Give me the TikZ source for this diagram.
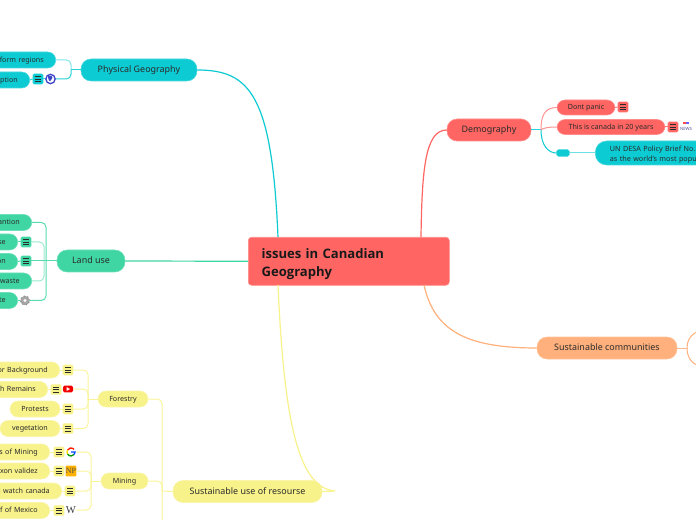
\documentclass[tikz,border=0pt]{standalone}
\usepackage{fontspec}
\setmainfont{Noto Sans}
\newfontfamily\serifw{Liberation Serif}
\newfontfamily\boldface{Open Sans}[UprightFont=* Bold]
\definecolor{coral}{HTML}{FF6663}
\definecolor{cyanb}{HTML}{0CCBD3}
\definecolor{greenb}{HTML}{3FD6A3}
\definecolor{yellowb}{HTML}{F8F28B}
\definecolor{orangeb}{HTML}{FFB07C}
\definecolor{inkc}{HTML}{2B2B2B}
\definecolor{globeb}{HTML}{3D45C8}
\tikzset{
  x=0.75pt,y=-0.75pt,
  sz/.style 2 args={minimum width=#1*0.75pt,minimum height=#2*0.75pt},
  base/.style={fill=#1,draw=#1!75!white,line width=.4pt,inner sep=0pt,text=inkc,rounded corners=6pt},
  main/.style={base=#1,font=\fontsize{6.7}{8}\selectfont,minimum height=16.5pt,rounded corners=7.5pt,text height=5.8pt,text depth=1.5pt},
  leaf/.style={base=#1,font=\fontsize{5.35}{7}\selectfont,minimum height=12pt,text height=4.6pt,text depth=1.2pt},
  cutleaf/.style={leaf=#1,anchor=east,text width=90pt,align=right,inner xsep=9pt},
  menu/.style={fill=#1,draw=#1!70!white,line width=.3pt,rounded corners=1pt,minimum size=7.8pt,inner sep=0pt,
    path picture={\foreach \d in {-1.8pt,0pt,1.8pt}{
      \draw[inkc,line width=.45pt] ([xshift=-2.4pt,yshift=\d]path picture bounding box.center) -- ([xshift=2.4pt,yshift=\d]path picture bounding box.center);}}},
  link/.style={draw=#1!88!white,line width=.75pt,rounded corners=3.5pt},
  branch/.style={draw=#1,line width=.9pt},
  logo/.style={inner sep=0pt,minimum size=7.5pt},
}
\begin{document}
\begin{tikzpicture}
\useasboundingbox (0,0) rectangle (696,520);
\clip (0,0) rectangle (696,520);

% centre
\node[base=coral,sz={201}{48},rounded corners=2.5pt,anchor=north west,text width=130.75pt,align=left,inner xsep=10pt,
  font=\boldface\fontsize{9.8}{13.5}\selectfont,text=black!90] (root) at (248,237) {\rule{0pt}{11pt}issues in Canadian\\Geography};

% Physical Geography
\node[main=cyanb,sz={116}{22}] (phys) at (139,70) {Physical Geography};
\node[cutleaf=cyanb] (lf1) at (56,60) {lform regions};
\node[cutleaf=cyanb] (lf2) at (30,80) {ption};
\node[menu=cyanb] (m2) at (38,79) {};
\node[logo,circle,fill=white,draw=globeb,line width=1pt,minimum size=7pt] (g2) at (50.5,79) {};
\fill[globeb] (48,76) .. controls (52,75) and (54,77) .. (51,80) .. controls (50,83) and (48,80) .. cycle;
\coordinate (h1) at (71,70);
\draw[link=cyanb!60!white] (lf1.east) -| (h1);
\draw[link=cyanb] (g2.east) -| (h1);
\draw[link=cyanb] (h1) -- (phys.west);
\draw[link=cyanb] (lf2.east) -- (m2.west);
\draw[link=cyanb] (m2.east) -- (g2.west);
\coordinate (rtop) at (278,237);
\draw[branch=cyanb] (phys.east) .. controls (250,70) and (272,95) .. (rtop);

% Land use
\node[main=greenb,sz={68}{22}] (land) at (91,261) {Land use};
\node[cutleaf=greenb] (a1) at (32,222.5) {antion};
\node[cutleaf=greenb] (a2) at (18,242) {se};
\node[menu=greenb] (am2) at (26,242) {};
\node[cutleaf=greenb] (a3) at (18,261.5) {on};
\node[menu=greenb] (am3) at (26,261) {};
\node[cutleaf=greenb] (a4) at (32,281) {waste};
\node[cutleaf=greenb] (a5) at (18,300.5) {ate};
\node[logo,circle,fill=black!35,draw=black!45,line width=.8pt,dotted,minimum size=7pt] (ag5) at (25,300.5) {};
\node[circle,fill=white,inner sep=0pt,minimum size=2.5pt] (ag5c) at (ag5.center) {};
\coordinate (h2) at (46,261);
\coordinate (h2b) at (44,261);
\draw[link=greenb!60!white] (am2.east) -| (h2b);
\draw[link=greenb!60!white] (a4.east) -| (h2b);
\draw[link=greenb] (a1.east) -| (h2);
\draw[link=greenb] (ag5.east) -| (h2);
\draw[link=greenb] (am3.east) -- (land.west);
\draw[link=greenb] (a2.east) -- (am2.west);
\draw[link=greenb] (a3.east) -- (am3.west);
\draw[link=greenb] (a5.east) -- (ag5.west);
\draw[branch=greenb] (land.east) -- (root.west);

% Forestry
\node[main=yellowb,sz={149}{22}] (sust) at (247.5,491.5) {Sustainable use of resourse};
\node[leaf=yellowb,sz={50}{16}] (fo) at (123,399) {Forestry};
\node[leaf=yellowb,sz={47}{16}] (mi) at (124.5,481) {Mining};
\node[cutleaf=yellowb] (f1) at (60,370) {or Background};
\node[menu=yellowb] (fm1) at (68,370) {};
\node[cutleaf=yellowb] (f2) at (48,389.5) {th Remains};
\node[menu=yellowb] (fm2) at (56,389.5) {};
\node[logo,fill=red!95!black,rounded corners=1.2pt,minimum width=7.5pt,minimum height=5.2pt] (fy2) at (68,389) {};
\fill[white] (66.5,387) -- (70,389) -- (66.5,391) -- cycle;
\node[leaf=yellowb,sz={50}{16}] (f3) at (35,409) {Protests};
\node[menu=yellowb] (fm3) at (68,409) {};
\node[leaf=yellowb,sz={60}{16}] (f4) at (30,428.5) {vegetation};
\node[menu=yellowb] (fm4) at (68,428.5) {};
\coordinate (h3) at (88,399);
\draw[link=yellowb] (fm1.east) -| (h3);
\draw[link=yellowb] (fy2.east) -| (h3);
\draw[link=yellowb] (fm3.east) -| (h3);
\draw[link=yellowb] (fm4.east) -| (h3);
\draw[link=yellowb] (h3) -- (fo.west);
\draw[link=yellowb] (f1.east) -- (fm1.west);
\draw[link=yellowb] (f2.east) -- (fm2.west);
\draw[link=yellowb] (fm2.east) -- (fy2.west);
\draw[link=yellowb] (f3.east) -- (fm3.west);
\draw[link=yellowb] (f4.east) -- (fm4.west);

% Mining
\node[cutleaf=yellowb] (n1) at (50,452) {es of Mining};
\node[menu=yellowb] (nm1) at (59,452) {};
\node[logo] (ng1) at (71,452) {};
\draw[line width=1pt,red!80!orange] (ng1.center) ++(40:3pt) arc (40:150:3pt);
\draw[line width=1pt,yellow!80!orange] (ng1.center) ++(150:3pt) arc (150:210:3pt);
\draw[line width=1pt,green!60!black] (ng1.center) ++(210:3pt) arc (210:320:3pt);
\draw[line width=1pt,blue!70!cyan] (ng1.center) ++(320:3pt) arc (320:360:3pt) -- (ng1.center);
\node[cutleaf=yellowb] (n2) at (50,471) {xexon validez};
\node[menu=yellowb] (nm2) at (59,471) {};
\node[logo,fill=orange!60!yellow,rounded corners=.6pt,minimum size=8pt,font=\serifw\fontsize{6}{6}\selectfont,text=black!70] (ng2) at (71,471) {NP};
\node[cutleaf=yellowb] (n3) at (62,491) {g watch canada};
\node[menu=yellowb] (nm3) at (70,491) {};
\node[cutleaf=yellowb] (n4) at (50,510.5) {alf of Mexico};
\node[menu=yellowb] (nm4) at (59,510.5) {};
\node[logo,font=\serifw\fontsize{8}{8}\selectfont,text=black!75] (ng4) at (71,510) {W};
\coordinate (h4) at (91,481);
\draw[link=yellowb] (ng1.east) -| (h4);
\draw[link=yellowb] (ng2.east) -| (h4);
\draw[link=yellowb] (nm3.east) -| (h4);
\draw[link=yellowb] (ng4.east) -| (h4);
\draw[link=yellowb] (h4) -- (mi.west);
\draw[link=yellowb] (n1.east) -- (nm1.west);
\draw[link=yellowb] (n2.east) -- (nm2.west);
\draw[link=yellowb] (n3.east) -- (nm3.west);
\draw[link=yellowb] (n4.east) -- (nm4.west);

% trunk of the resource branch
\coordinate (h5) at (162,491);
\coordinate (h5b) at (162,530);
\draw[link=yellowb] (fo.east) -| (h5b);
\draw[link=yellowb] (mi.east) -| (h5);
\draw[link=yellowb] (h5) -- (sust.west);
\coordinate (rbot) at (278,285);
\coordinate (stub) at (335,491);
\draw[branch=yellowb] (sust.east) -- (stub);
\draw[branch=yellowb] (rbot) .. controls (284,420) and (298,488) .. (stub);

% Demography
\node[main=coral,sz={84}{22}] (demo) at (489,130) {Demography};
\node[leaf=coral,sz={58}{15}] (d1) at (586,107.5) {Dont panic};
\node[menu=coral] (dm1) at (623,107) {};
\node[leaf=coral,sz={108}{15}] (d2) at (611,127) {This is canada in 20 years};
\node[menu=coral] (dm2) at (673,127) {};
\node[logo,font=\fontsize{3.2}{3.2}\selectfont\bfseries,text=blue!40!black!70] (dn2) at (686,128.5) {NEWS};
\fill[red!70] (683,122.5) rectangle (686,124);
\fill[blue!60] (686,122.5) rectangle (689,124);
\node[base=cyanb,sz={8}{5},rounded corners=1.2pt,minimum width=9.5pt,minimum height=5pt] (d3) at (563,153) {};
\node[base=cyanb,anchor=west,sz={140}{24},rounded corners=8.5pt,font=\fontsize{5.4}{7.6}\selectfont,text width=94pt,align=left,inner xsep=11pt] (d4) at (595,153) {\rule{0pt}{7pt}UN DESA Policy Brief No.\\as the world's most popul};
\coordinate (h6) at (541,130);
\draw[link=cyanb] (demo.east) -- (h6);
\draw[draw=coral!70!white,line width=.75pt] (h6) .. controls (541,115) and (545,107.5) .. (d1.west);
\draw[draw=coral!70!white,line width=.75pt] (h6) .. controls (543,128) and (548,127) .. (d2.west);
\draw[draw=cyanb,line width=.75pt] (h6) .. controls (541,145) and (548,153) .. (d3.west);
\draw[draw=cyanb!60!white,line width=.75pt] (d3.east) -- (d4.west);
\draw[link=coral] (d1.east) -- (dm1.west);
\draw[link=coral] (d2.east) -- (dm2.west);
\coordinate (rtr) at (421,237);
\draw[branch=coral] (rtr) .. controls (422,170) and (425,130) .. (demo.west);

% Sustainable communities
\node[main=orangeb,sz={140}{22}] (comm) at (607,348) {Sustainable communities};
\coordinate (rbr) at (424,285);
\coordinate (h7) at (687,348);
\coordinate (e1) at (697,332);
\coordinate (e2) at (697,365);
\draw[branch=orangeb] (rbr) .. controls (434,330) and (465,348) .. (comm.west);
\draw[link=orangeb] (comm.east) -- (h7);
\draw[draw=orangeb,line width=.75pt] (e1) .. controls (690,335) and (687,341) .. (h7) .. controls (687,356) and (690,362) .. (e2);
\end{tikzpicture}
\end{document}
